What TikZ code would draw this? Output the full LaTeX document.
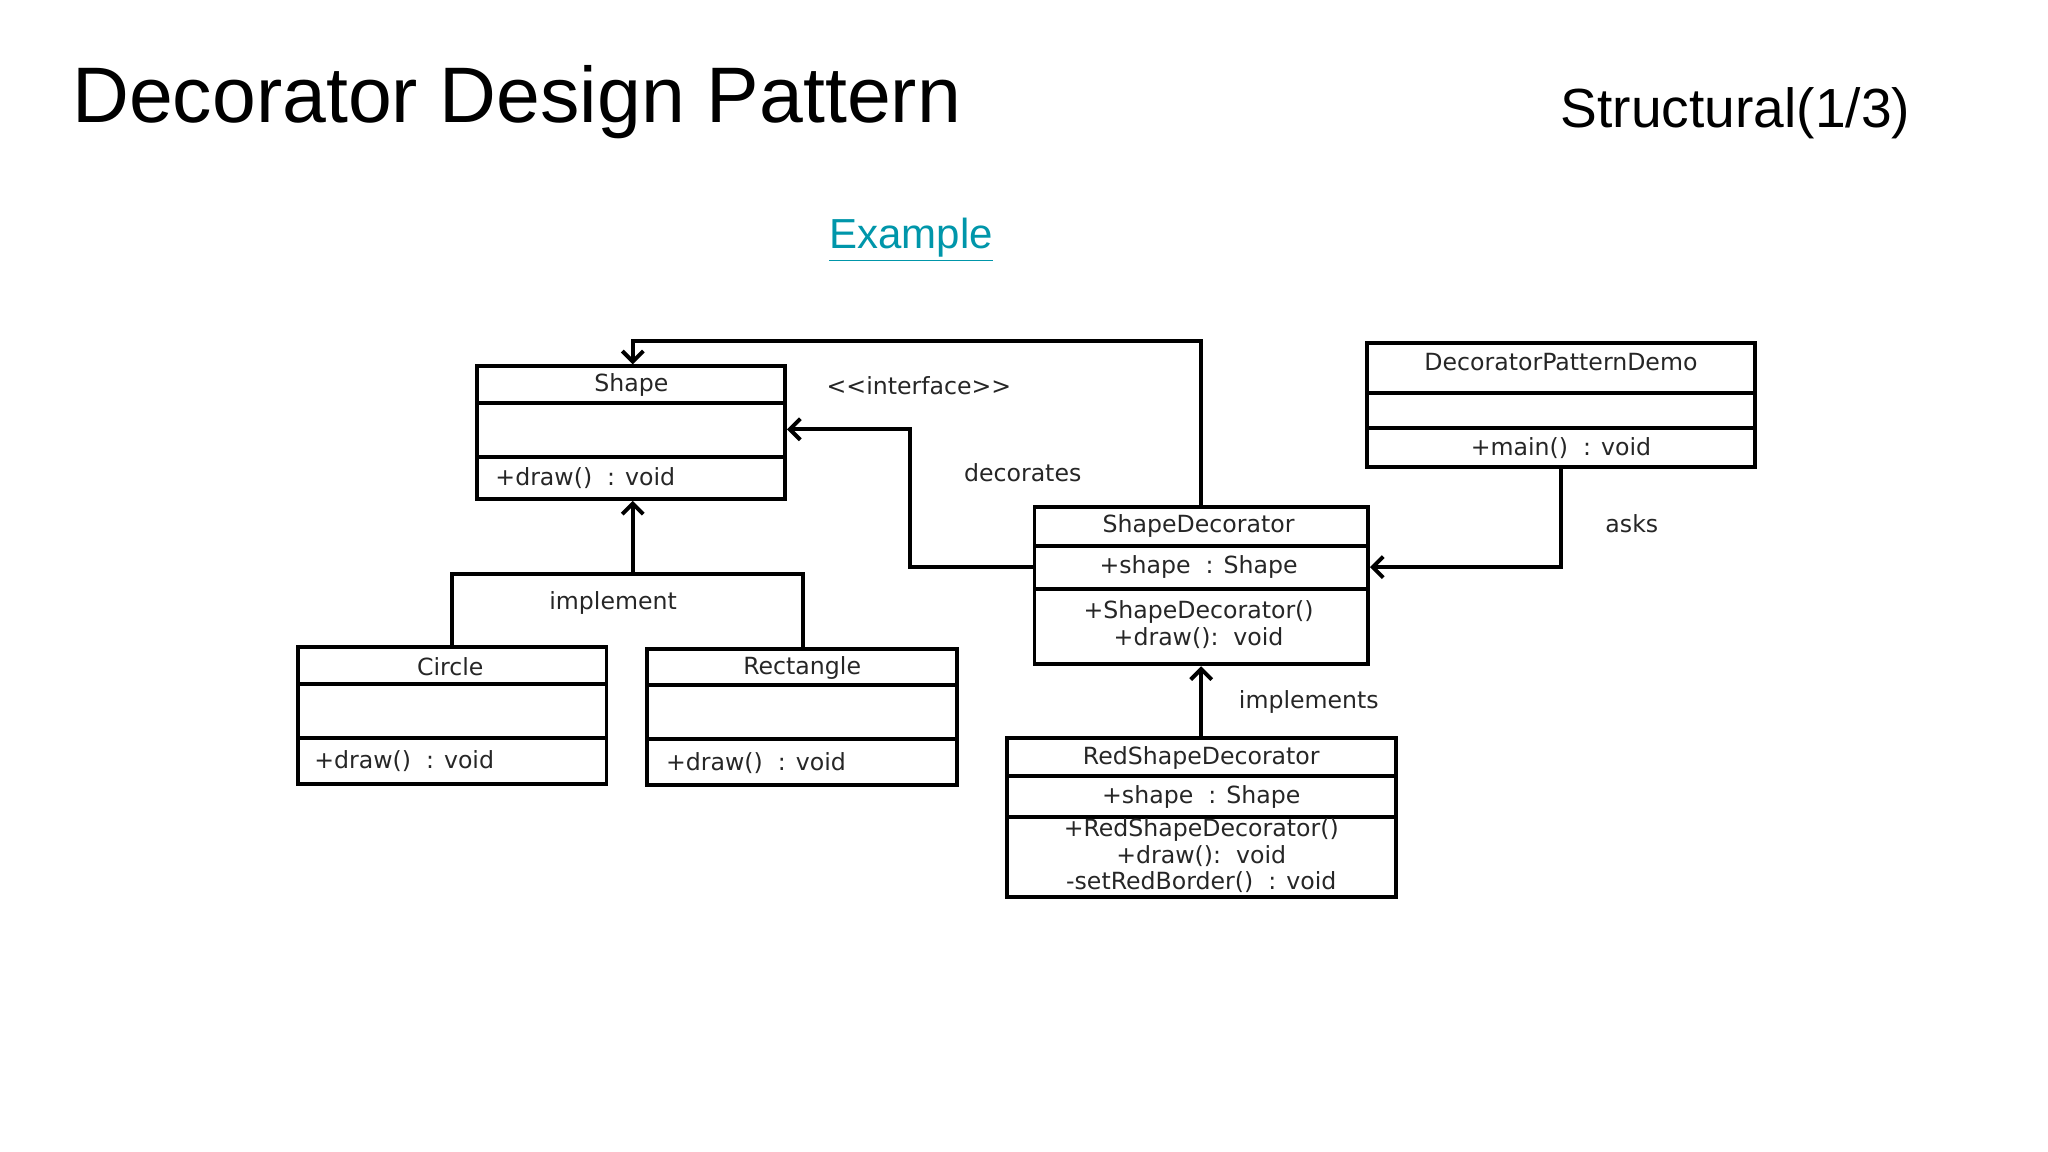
\documentclass[tikz,border=0pt]{standalone}
\usepackage{fontspec}
\setmainfont{Liberation Sans}
\newfontfamily\umlf{DejaVu Sans}
\usetikzlibrary{fit}
\definecolor{linkc}{RGB}{0,150,170}
\tikzset{
  box/.style={draw, line width=1.5pt, inner sep=0pt},
  divl/.style={line width=1.5pt},
  conn/.style={line width=1.5pt},
  arr/.style={line width=1.5pt, -{Straight Barb[length=4pt,width=8pt]}},
  lbl/.style={font=\umlf\fontsize{9}{10}\selectfont, inner sep=0pt, text=black!85},
}
\usetikzlibrary{arrows.meta}
\begin{document}
\begin{tikzpicture}[x=0.5pt,y=-0.5pt]
\useasboundingbox (0,0) rectangle (1560,877.5);
% titles
\node[anchor=west, font=\fontsize{30}{34}\selectfont] (title) at (48,78) {Decorator Design Pattern};
\node[anchor=east, font=\fontsize{21}{24}\selectfont] (sub) at (1462,86) {Structural(1/3)};
\node[font=\fontsize{16}{18}\selectfont, text=linkc] (ex) at (694,183) {\underline{Example}};
% Shape
\node[box, fit={(363,279)(598,380)}] (shape) {};
\draw[divl] (363,307) -- (598,307); \draw[divl] (363,348) -- (598,348);
\node[lbl] (shapet) at (481,293) {Shape};
\node[lbl, anchor=west] (shapem) at (377,364) {+draw()\ \ : void};
% Circle
\node[box, fit={(227,493)(462,597)}] (circle) {};
\draw[divl] (227,521) -- (462,521); \draw[divl] (227,562) -- (462,562);
\node[lbl] (circlet) at (343,508) {Circle};
\node[lbl, anchor=west] (circlem) at (239,580) {+draw()\ \ : void};
% Rectangle
\node[box, fit={(493,494)(729,598)}] (rect) {};
\draw[divl] (493,522) -- (729,522); \draw[divl] (493,563) -- (729,563);
\node[lbl] (rectt) at (611,509) {Rectangle};
\node[lbl, anchor=west] (rectm) at (507,581) {+draw()\ \ : void};
% ShapeDecorator
\node[box, fit={(788,386)(1042,506)}] (sd) {};
\draw[divl] (788,416) -- (1042,416); \draw[divl] (788,449) -- (1042,449);
\node[lbl] (sdt) at (913,401) {ShapeDecorator};
\node[lbl] (sda) at (913,432) {+shape\ \ : Shape};
\node[lbl] (sdm1) at (913,466) {+ShapeDecorator()};
\node[lbl] (sdm2) at (913,486) {+draw():\ \ void};
% Demo
\node[box, fit={(1041,261)(1337,356)}] (demo) {};
\draw[divl] (1041,299) -- (1337,299); \draw[divl] (1041,326) -- (1337,326);
\node[lbl] (demot) at (1189,276) {DecoratorPatternDemo};
\node[lbl] (demom) at (1189,341) {+main()\ \ : void};
% RedShapeDecorator
\node[box, fit={(767,562)(1063,683)}] (rsd) {};
\draw[divl] (767,591) -- (1063,591); \draw[divl] (767,622) -- (1063,622);
\node[lbl] (rsdt) at (915,577) {RedShapeDecorator};
\node[lbl] (rsda) at (915,607) {+shape\ \ : Shape};
\node[lbl] (rsdm1) at (915,632) {+RedShapeDecorator()};
\node[lbl] (rsdm2) at (915,652) {+draw():\ \ void};
\node[lbl] (rsdm3) at (915,672) {-setRedBorder()\ \ : void};
% connector coordinates
\coordinate (j1) at (482,437);
% connectors
\draw[arr] (sd.north -| 915,0) |- (482,260) -- (shape.north -| 482,0);
\draw[arr] (788,432) -| (693,327) -- (shape.east |- 0,327);
\draw[conn] (circle.north) |- (j1) -| (rect.north -| 612,0);
\draw[arr] (j1) -- (shape.south -| 482,0);
\draw[arr] (demo.south) |- (sd.east |- 0,432);
\draw[arr] (rsd.north -| 915,0) -- (sd.south -| 915,0);
% labels
\node[lbl] (l1) at (700,294) {<<interface>>};
\node[lbl] (l2) at (779,360) {decorates};
\node[lbl] (l3) at (467,459) {implement};
\node[lbl] (l4) at (1243,399) {asks};
\node[lbl] (l5) at (997,535) {implements};
\end{tikzpicture}
\end{document}
